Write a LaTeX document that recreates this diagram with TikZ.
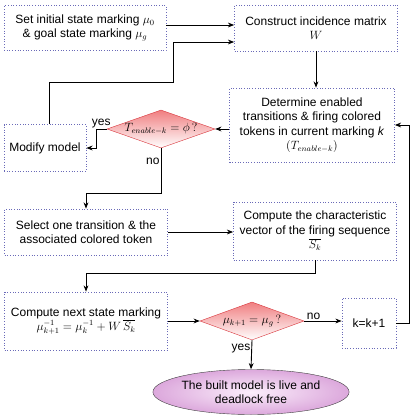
\documentclass[tikz,border=0pt]{standalone}
\usepackage{fontspec}
\setmainfont{Liberation Sans}
\usepackage{amsmath}
\usetikzlibrary{arrows.meta,calc,positioning,shapes.geometric}
\definecolor{frm}{HTML}{6A6AB8}
\definecolor{dred}{HTML}{D8343A}
\definecolor{dpink}{HTML}{F07E80}
\definecolor{ovin}{HTML}{FBEEFB}
\definecolor{ovout}{HTML}{DCA8DC}

\begin{document}
\begin{tikzpicture}[x=1pt,y=-1pt,
  font=\fontsize{12}{14.5}\selectfont,
  box/.style={draw=frm,dotted,line width=0.7pt,fill=white,align=center,inner sep=1pt},
  deci/.style={diamond,draw=dred,thin,top color=dpink,bottom color=white,inner sep=0pt},
  term/.style={ellipse,draw=black!75,thin,inner color=ovin,outer color=ovout,align=center,inner sep=0pt},
  arr/.style={-{Stealth[length=2.2mm,width=1.7mm]},line width=0.9pt,draw=black},
  lbl/.style={inner sep=1pt}]
\useasboundingbox (0,0) rectangle (410,420);
% boxes
\node[box,minimum width=162pt,minimum height=45pt] (init) at (85,28)
  {Set initial state marking $\mu_0$\\ \& goal state marking $\mu_g$};
\node[box,minimum width=163pt,minimum height=46pt] (incid) at (316,28)
  {Construct incidence matrix\\ $W$};
\node[box,minimum width=165pt,minimum height=74pt] (enab) at (312,125)
  {Determine enabled\\ transitions \& firing colored\\ tokens in current marking \textit{k}\\ $(T_{enable-k})$};
\node[box,minimum width=82pt,minimum height=47pt] (modify) at (45,148) {Modify model};
\node[deci,minimum width=108pt,minimum height=38pt] (dia1) at (161,129)
  {\makebox[0pt]{$T_{enable-k}=\phi\,?$}};
\node[box,minimum width=163pt,minimum height=46pt] (select) at (86,232)
  {Select one transition \& the\\ associated colored token};
\node[box,minimum width=163pt,minimum height=58pt] (charv) at (315,231)
  {Compute the characteristic\\ vector of the firing sequence\\ $\overline{S_k}$};
\node[box,minimum width=163pt,minimum height=58pt] (next) at (86,321)
  {Compute next state marking\\ $\mu_{k+1}^{-1}=\mu_k^{-1}+W\,\overline{S_k}$};
\node[deci,minimum width=104pt,minimum height=38pt] (dia2) at (252,321)
  {\makebox[0pt]{$\mu_{k+1}=\mu_g\,?$}};
\node[box,minimum width=54pt,minimum height=50pt] (kinc) at (369,323) {k=k+1};
\node[term,minimum width=175pt,minimum height=45pt] (final) at (251,392)
  {The built model is live and\\ deadlock free};
\coordinate (up) at (173,82);
% connectors
\draw[arr] ([yshift=3pt]init.east) -- ([yshift=3pt]init.east -| incid.west);
\draw[arr] ([xshift=4pt]modify.north) |- (up) |- ([yshift=-14pt]incid.west);
\draw[arr] (incid.south) -- (incid.south |- enab.north);
\draw[arr] (dia1.east -| enab.west) -- (dia1.east);
\draw[arr] (dia1.west) -- ++(-10,0) |- (modify.east);
\node[lbl,anchor=south east] (yes1) at ([xshift=5pt]dia1.west) {yes};
\draw[arr] (dia1.south) -- ++(0,45) node[lbl,pos=0.3,left] (no1) {no} -| (select.north);
\draw[arr] (select.east) -- (select.east -| charv.west);
\draw[arr] (charv.south) -- ++(0,13) -| (next.north);
\draw[arr] (next.east) -- (dia2.west);
\draw[arr] (dia2.east) -- node[lbl,pos=0.25,above] (no2) {no} (dia2.east -| kinc.west);
\draw[arr] (dia2.south) -- node[lbl,pos=0.3,left] (yes2) {yes} (final.north);
\draw[arr] (kinc.east) -- ++(13,0) |- (enab.east);
\end{tikzpicture}
\end{document}
